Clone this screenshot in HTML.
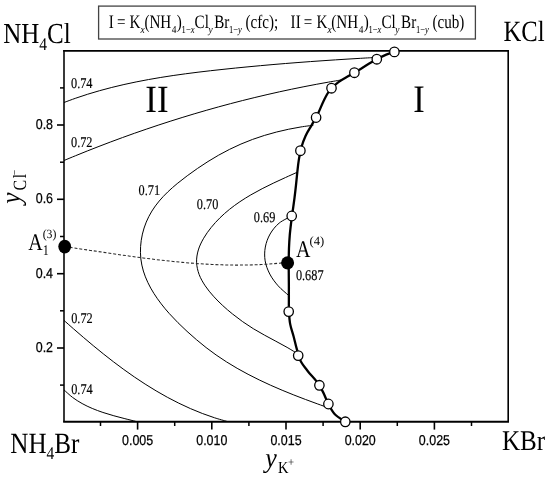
<!DOCTYPE html>
<html><head><meta charset="utf-8"><title>Phase diagram</title>
<style>html,body{margin:0;padding:0;background:#fff}svg{display:block}text{fill:#000;text-rendering:geometricPrecision}.s{font-family:"Liberation Serif",serif}.a{font-family:"Liberation Sans",sans-serif}.i{font-style:italic}</style></head><body>
<svg width="550" height="479" viewBox="0 0 550 479">
<rect width="550" height="479" fill="#fff"/>
<path d="M64.00 102.50 C65.96 101.77 71.84 99.54 75.79 98.16 C79.74 96.79 83.70 95.48 87.68 94.23 C91.66 92.98 95.66 91.80 99.67 90.67 C103.68 89.54 107.71 88.47 111.75 87.45 C115.79 86.43 119.84 85.46 123.91 84.54 C127.97 83.62 132.05 82.76 136.14 81.93 C140.22 81.10 144.32 80.32 148.43 79.57 C152.53 78.83 156.65 78.12 160.77 77.45 C164.89 76.78 169.02 76.14 173.16 75.53 C177.30 74.92 181.44 74.35 185.58 73.79 C189.73 73.24 193.88 72.71 198.04 72.20 C202.19 71.69 206.35 71.21 210.51 70.73 C214.67 70.26 218.83 69.81 223.00 69.36 C227.16 68.91 231.32 68.48 235.48 68.06 C239.65 67.64 243.81 67.23 247.98 66.83 C252.14 66.43 256.31 66.04 260.47 65.66 C264.64 65.28 268.81 64.92 272.97 64.56 C277.14 64.20 281.31 63.85 285.47 63.51 C289.64 63.18 293.81 62.85 297.98 62.53 C302.14 62.21 306.31 61.89 310.48 61.59 C314.65 61.29 318.82 60.99 322.99 60.71 C327.15 60.42 331.32 60.14 335.49 59.87 C339.66 59.60 343.83 59.33 347.99 59.07 C352.16 58.81 356.33 58.56 360.50 58.32 C364.67 58.07 370.92 57.72 373.00 57.60" fill="none" stroke="#000" stroke-width="1"/>
<path d="M64.00 160.50 C65.93 159.70 71.73 157.27 75.61 155.69 C79.49 154.10 83.37 152.53 87.27 150.98 C91.16 149.44 95.06 147.91 98.97 146.40 C102.88 144.88 106.80 143.39 110.72 141.92 C114.64 140.45 118.58 138.99 122.51 137.56 C126.45 136.12 130.40 134.71 134.35 133.31 C138.31 131.92 142.27 130.54 146.23 129.19 C150.20 127.83 154.17 126.49 158.15 125.18 C162.13 123.86 166.12 122.57 170.12 121.29 C174.11 120.01 178.11 118.76 182.11 117.52 C186.12 116.28 190.13 115.07 194.15 113.87 C198.17 112.68 202.19 111.50 206.22 110.35 C210.25 109.19 214.29 108.06 218.33 106.95 C222.37 105.83 226.42 104.74 230.47 103.67 C234.52 102.60 238.58 101.55 242.64 100.52 C246.70 99.49 250.77 98.49 254.84 97.50 C258.91 96.51 262.99 95.55 267.07 94.61 C271.15 93.66 275.24 92.74 279.33 91.84 C283.42 90.94 287.52 90.06 291.62 89.21 C295.71 88.35 299.82 87.52 303.93 86.71 C308.03 85.89 312.15 85.10 316.26 84.34 C320.38 83.57 324.50 82.82 328.62 82.10 C332.74 81.38 338.94 80.35 341.00 80.00" fill="none" stroke="#000" stroke-width="1"/>
<path d="M313.40 125.20 C311.33 125.49 305.12 126.28 300.99 126.95 C296.87 127.62 292.75 128.37 288.65 129.22 C284.56 130.07 280.47 131.01 276.42 132.05 C272.37 133.08 268.35 134.21 264.36 135.44 C260.38 136.67 256.42 138.00 252.52 139.43 C248.61 140.87 244.75 142.40 240.94 144.05 C237.13 145.69 233.37 147.45 229.66 149.30 C225.95 151.15 222.30 153.10 218.68 155.14 C215.07 157.18 211.50 159.32 207.97 161.54 C204.43 163.75 200.95 166.06 197.49 168.44 C194.04 170.81 190.61 173.26 187.23 175.79 C183.85 178.31 180.47 180.89 177.23 183.58 C173.98 186.27 170.77 189.03 167.77 191.94 C164.76 194.85 161.85 197.86 159.21 201.04 C156.57 204.23 154.08 207.54 151.92 211.05 C149.76 214.57 147.82 218.28 146.24 222.12 C144.66 225.96 143.36 230.02 142.41 234.08 C141.47 238.15 140.83 242.37 140.58 246.51 C140.32 250.66 140.40 254.88 140.87 258.97 C141.33 263.06 142.21 267.11 143.37 271.04 C144.54 274.97 146.10 278.82 147.86 282.56 C149.63 286.31 151.72 289.96 153.94 293.51 C156.17 297.05 158.65 300.50 161.21 303.84 C163.76 307.18 166.49 310.41 169.28 313.54 C172.07 316.68 174.98 319.71 177.94 322.68 C180.90 325.64 183.95 328.52 187.03 331.35 C190.11 334.17 193.24 336.95 196.41 339.65 C199.59 342.36 202.80 345.01 206.08 347.56 C209.36 350.12 212.70 352.58 216.10 354.96 C219.50 357.35 222.96 359.64 226.47 361.86 C229.98 364.08 233.54 366.22 237.15 368.30 C240.75 370.37 244.41 372.37 248.09 374.31 C251.78 376.25 255.51 378.12 259.27 379.94 C263.02 381.77 266.82 383.52 270.63 385.24 C274.45 386.95 278.29 388.61 282.15 390.23 C286.01 391.85 289.90 393.42 293.79 394.96 C297.68 396.50 301.59 398.00 305.50 399.47 C309.41 400.95 313.33 402.38 317.25 403.81 C321.17 405.23 327.04 407.30 329.00 408.00" fill="none" stroke="#000" stroke-width="1"/>
<path d="M297.10 172.30 C295.16 173.17 289.35 175.76 285.47 177.54 C281.58 179.31 277.66 181.09 273.78 182.95 C269.89 184.80 266.00 186.69 262.18 188.68 C258.36 190.66 254.55 192.71 250.84 194.88 C247.13 197.05 243.47 199.30 239.92 201.71 C236.37 204.11 232.90 206.62 229.57 209.31 C226.24 212.00 223.00 214.82 219.94 217.84 C216.88 220.87 213.92 224.06 211.20 227.46 C208.49 230.85 205.79 234.49 203.65 238.24 C201.50 241.98 199.51 245.95 198.33 249.94 C197.15 253.93 196.45 258.10 196.58 262.17 C196.71 266.25 197.66 270.45 199.10 274.40 C200.54 278.34 202.81 282.20 205.21 285.84 C207.60 289.47 210.55 292.94 213.47 296.22 C216.38 299.51 219.52 302.57 222.69 305.53 C225.86 308.48 229.16 311.26 232.49 313.95 C235.82 316.64 239.20 319.21 242.67 321.66 C246.14 324.12 249.68 326.45 253.31 328.69 C256.94 330.93 260.70 333.01 264.45 335.10 C268.21 337.19 272.05 339.17 275.83 341.22 C279.61 343.26 283.43 345.26 287.12 347.39 C290.82 349.52 296.19 352.90 298.00 354.00" fill="none" stroke="#000" stroke-width="1"/>
<path d="M291.80 216.00 C289.69 217.19 282.74 220.14 279.13 223.13 C275.52 226.13 272.44 229.98 270.14 233.97 C267.84 237.95 266.16 242.56 265.33 247.04 C264.49 251.52 264.40 256.35 265.15 260.86 C265.90 265.37 267.64 269.91 269.80 274.07 C271.97 278.23 275.00 282.27 278.14 285.82 C281.27 289.37 286.86 293.80 288.60 295.40" fill="none" stroke="#000" stroke-width="1"/>
<path d="M64.00 320.40 C65.60 321.82 70.39 326.08 73.62 328.91 C76.85 331.73 80.09 334.55 83.36 337.34 C86.63 340.13 89.92 342.91 93.24 345.65 C96.56 348.40 99.89 351.13 103.26 353.81 C106.63 356.50 110.03 359.16 113.45 361.78 C116.88 364.39 120.33 366.97 123.82 369.50 C127.30 372.03 130.82 374.52 134.37 376.96 C137.92 379.39 141.51 381.77 145.13 384.09 C148.75 386.41 152.41 388.67 156.11 390.87 C159.80 393.06 163.54 395.19 167.31 397.24 C171.08 399.29 174.89 401.27 178.75 403.17 C182.60 405.06 186.49 406.88 190.42 408.59 C194.35 410.31 198.32 411.95 202.33 413.48 C206.35 415.00 210.40 416.44 214.49 417.76 C218.59 419.08 224.83 420.79 226.90 421.40" fill="none" stroke="#000" stroke-width="1"/>
<path d="M64.00 389.90 C65.44 391.16 69.61 395.17 72.62 397.44 C75.64 399.71 78.83 401.70 82.11 403.54 C85.38 405.37 88.80 406.97 92.26 408.45 C95.73 409.94 99.31 411.22 102.90 412.44 C106.50 413.66 110.17 414.72 113.83 415.75 C117.49 416.79 121.20 417.71 124.86 418.66 C128.52 419.60 133.98 420.94 135.80 421.40" fill="none" stroke="#000" stroke-width="1"/>
<path d="M64.70 246.60 C66.87 246.92 73.37 247.86 77.71 248.50 C82.06 249.14 86.40 249.79 90.74 250.44 C95.09 251.08 99.44 251.74 103.79 252.38 C108.14 253.02 112.49 253.67 116.85 254.30 C121.20 254.93 125.56 255.55 129.92 256.15 C134.27 256.76 138.64 257.35 143.00 257.92 C147.36 258.49 151.73 259.05 156.10 259.57 C160.46 260.09 164.83 260.59 169.20 261.06 C173.57 261.53 177.95 261.97 182.32 262.37 C186.70 262.77 191.07 263.13 195.45 263.46 C199.83 263.78 204.21 264.06 208.59 264.29 C212.97 264.53 217.35 264.72 221.74 264.85 C226.12 264.99 230.51 265.07 234.89 265.10 C239.28 265.12 243.67 265.09 248.06 264.99 C252.45 264.90 256.84 264.74 261.23 264.52 C265.63 264.29 270.02 264.00 274.41 263.63 C278.81 263.26 285.40 262.52 287.60 262.30" fill="none" stroke="#2a2a2a" stroke-width="1.05" stroke-dasharray="3 1.9"/>
<path d="M63.2 50.9H508.2V421.8" fill="none" stroke="#000" stroke-width="1.6"/>
<path d="M64 50.1V421.8" fill="none" stroke="#000" stroke-width="1.55"/>
<path d="M63.15 421.8H509" fill="none" stroke="#000" stroke-width="1.9"/>
<path d="M57 348.0H64" stroke="#000" stroke-width="1.6"/>
<path d="M57 273.7H64" stroke="#000" stroke-width="1.6"/>
<path d="M57 199.3H64" stroke="#000" stroke-width="1.6"/>
<path d="M57 125.0H64" stroke="#000" stroke-width="1.6"/>
<path d="M60 385.1H64" stroke="#000" stroke-width="1.5"/>
<path d="M60 310.8H64" stroke="#000" stroke-width="1.5"/>
<path d="M60 236.5H64" stroke="#000" stroke-width="1.5"/>
<path d="M60 162.2H64" stroke="#000" stroke-width="1.5"/>
<path d="M60 87.9H64" stroke="#000" stroke-width="1.5"/>
<path d="M137.6 421.8V429.6" stroke="#000" stroke-width="1.6"/>
<path d="M211.8 421.8V429.6" stroke="#000" stroke-width="1.6"/>
<path d="M286.0 421.8V429.6" stroke="#000" stroke-width="1.6"/>
<path d="M360.2 421.8V429.6" stroke="#000" stroke-width="1.6"/>
<path d="M434.4 421.8V429.6" stroke="#000" stroke-width="1.6"/>
<path d="M100.5 421.8V426" stroke="#000" stroke-width="1.5"/>
<path d="M174.7 421.8V426" stroke="#000" stroke-width="1.5"/>
<path d="M248.9 421.8V426" stroke="#000" stroke-width="1.5"/>
<path d="M323.1 421.8V426" stroke="#000" stroke-width="1.5"/>
<path d="M397.3 421.8V426" stroke="#000" stroke-width="1.5"/>
<path d="M471.5 421.8V426" stroke="#000" stroke-width="1.5"/>
<path d="M394.40 51.90 C392.40 52.64 386.25 54.61 382.41 56.34 C378.58 58.07 375.02 60.21 371.39 62.31 C367.76 64.41 364.28 66.76 360.63 68.96 C356.97 71.16 353.16 73.28 349.46 75.48 C345.77 77.69 341.77 79.65 338.44 82.17 C335.11 84.69 332.02 87.40 329.51 90.61 C327.00 93.81 325.27 97.64 323.38 101.41 C321.50 105.19 320.09 109.37 318.19 113.24 C316.28 117.11 314.07 120.87 311.98 124.62 C309.89 128.37 307.42 131.91 305.65 135.72 C303.88 139.54 302.49 143.49 301.35 147.52 C300.21 151.55 299.50 155.73 298.82 159.90 C298.14 164.07 297.74 168.32 297.27 172.52 C296.80 176.73 296.45 180.92 295.99 185.12 C295.54 189.31 295.07 193.50 294.54 197.69 C294.01 201.88 293.39 206.08 292.81 210.28 C292.24 214.48 291.61 218.69 291.10 222.89 C290.59 227.10 290.09 231.31 289.73 235.53 C289.38 239.74 289.15 243.96 288.98 248.18 C288.81 252.40 288.77 256.62 288.73 260.84 C288.70 265.07 288.75 269.30 288.77 273.53 C288.79 277.75 288.85 281.99 288.87 286.22 C288.88 290.45 288.85 294.68 288.87 298.91 C288.89 303.13 288.75 307.37 288.97 311.57 C289.19 315.77 289.41 319.96 290.19 324.11 C290.96 328.25 292.52 332.31 293.62 336.44 C294.71 340.57 295.61 344.82 296.76 348.87 C297.91 352.93 298.67 357.02 300.51 360.74 C302.36 364.47 305.23 367.84 307.84 371.20 C310.45 374.57 313.68 377.53 316.18 380.94 C318.68 384.35 320.85 387.94 322.83 391.66 C324.81 395.38 326.09 399.55 328.05 403.26 C330.01 406.97 331.72 410.84 334.59 413.93 C337.47 417.02 343.52 420.49 345.30 421.80" fill="none" stroke="#000" stroke-width="2.3"/>
<ellipse cx="394.4" cy="51.9" rx="4.7" ry="4.8" fill="#fff" stroke="#000" stroke-width="1.3"/>
<ellipse cx="376.8" cy="59.2" rx="4.7" ry="4.8" fill="#fff" stroke="#000" stroke-width="1.3"/>
<ellipse cx="354.4" cy="72.7" rx="4.7" ry="4.8" fill="#fff" stroke="#000" stroke-width="1.3"/>
<ellipse cx="331.5" cy="88.2" rx="4.7" ry="4.8" fill="#fff" stroke="#000" stroke-width="1.3"/>
<ellipse cx="316.1" cy="117.5" rx="4.7" ry="4.8" fill="#fff" stroke="#000" stroke-width="1.3"/>
<ellipse cx="300.4" cy="150.7" rx="4.7" ry="4.8" fill="#fff" stroke="#000" stroke-width="1.3"/>
<ellipse cx="291.7" cy="216.0" rx="4.7" ry="4.8" fill="#fff" stroke="#000" stroke-width="1.3"/>
<ellipse cx="288.7" cy="311.6" rx="4.7" ry="4.8" fill="#fff" stroke="#000" stroke-width="1.3"/>
<ellipse cx="298.2" cy="355.6" rx="4.7" ry="4.8" fill="#fff" stroke="#000" stroke-width="1.3"/>
<ellipse cx="319.4" cy="385.3" rx="4.7" ry="4.8" fill="#fff" stroke="#000" stroke-width="1.3"/>
<ellipse cx="328.4" cy="404.0" rx="4.7" ry="4.8" fill="#fff" stroke="#000" stroke-width="1.3"/>
<ellipse cx="345.3" cy="421.8" rx="4.7" ry="4.8" fill="#fff" stroke="#000" stroke-width="1.3"/>
<ellipse cx="64.7" cy="246.6" rx="6.4" ry="6.8" fill="#000"/>
<ellipse cx="287.6" cy="262.8" rx="6.5" ry="6.6" fill="#000"/>
<text class="a" transform="translate(53.0 351.9) scale(0.87 1)" font-size="14.3" text-anchor="end" stroke="#000" stroke-width="0.25">0.2</text>
<text class="a" transform="translate(53.0 277.6) scale(0.87 1)" font-size="14.3" text-anchor="end" stroke="#000" stroke-width="0.25">0.4</text>
<text class="a" transform="translate(53.0 203.2) scale(0.87 1)" font-size="14.3" text-anchor="end" stroke="#000" stroke-width="0.25">0.6</text>
<text class="a" transform="translate(53.0 128.9) scale(0.87 1)" font-size="14.3" text-anchor="end" stroke="#000" stroke-width="0.25">0.8</text>
<text class="a" transform="translate(137.6 445.4) scale(0.87 1)" font-size="14.3" text-anchor="middle" stroke="#000" stroke-width="0.25">0.005</text>
<text class="a" transform="translate(211.8 445.4) scale(0.87 1)" font-size="14.3" text-anchor="middle" stroke="#000" stroke-width="0.25">0.010</text>
<text class="a" transform="translate(286.0 445.4) scale(0.87 1)" font-size="14.3" text-anchor="middle" stroke="#000" stroke-width="0.25">0.015</text>
<text class="a" transform="translate(360.2 445.4) scale(0.87 1)" font-size="14.3" text-anchor="middle" stroke="#000" stroke-width="0.25">0.020</text>
<text class="a" transform="translate(434.4 445.4) scale(0.87 1)" font-size="14.3" text-anchor="middle" stroke="#000" stroke-width="0.25">0.025</text>
<text class="s" transform="translate(71.0 88.4) scale(0.830 1)" font-size="14.8" stroke="#000" stroke-width="0.18">0.74</text>
<text class="s" transform="translate(71.0 147.0) scale(0.830 1)" font-size="14.8" stroke="#000" stroke-width="0.18">0.72</text>
<text class="s" transform="translate(138.6 194.5) scale(0.830 1)" font-size="14.8" stroke="#000" stroke-width="0.18">0.71</text>
<text class="s" transform="translate(196.8 209.4) scale(0.830 1)" font-size="14.8" stroke="#000" stroke-width="0.18">0.70</text>
<text class="s" transform="translate(253.8 222.4) scale(0.830 1)" font-size="14.8" stroke="#000" stroke-width="0.18">0.69</text>
<text class="s" transform="translate(295.9 279.7) scale(0.830 1)" font-size="14.8" stroke="#000" stroke-width="0.18">0.687</text>
<text class="s" transform="translate(71.2 323.0) scale(0.830 1)" font-size="14.8" stroke="#000" stroke-width="0.18">0.72</text>
<text class="s" transform="translate(71.2 393.5) scale(0.830 1)" font-size="14.8" stroke="#000" stroke-width="0.18">0.74</text>
<text class="s" transform="translate(3.2 43.0) scale(0.863 1)" font-size="29">NH<tspan font-size="18" dy="6.6">4</tspan><tspan dy="-6.6">Cl</tspan></text>
<text class="s" transform="translate(503.5 41.3) scale(0.841 1)" font-size="29.3">KCl</text>
<text class="s" transform="translate(10.3 453.3) scale(0.857 1)" font-size="29.3">NH<tspan font-size="18" dy="6">4</tspan><tspan dy="-6">Br</tspan></text>
<text class="s" transform="translate(502.0 450.0) scale(0.880 1)" font-size="28.5">KBr</text>
<text class="s" transform="translate(145.3 111.5) scale(0.905 1)" font-size="38.6">II</text>
<text class="s" transform="translate(413.2 112.1) scale(0.880 1)" font-size="39.1">I</text>
<text class="s" transform="translate(28.2 249.7) scale(0.834 1)" font-size="24">A<tspan font-size="14.6" dy="5.2">1</tspan></text>
<text class="s" transform="translate(42.7 237.6) scale(0.940 1)" font-size="12.5">(3)</text>
<text class="s" transform="translate(296.0 257.4) scale(0.834 1)" font-size="24">A</text>
<text class="s" transform="translate(309.5 245.0) scale(1.000 1)" font-size="12.6">(4)</text>
<text class="s i" transform="translate(265.2 466.8) scale(0.930 1)" font-size="28">y</text>
<text class="s" transform="translate(278.0 473.2) scale(0.850 1)" font-size="17">K</text>
<text class="s" transform="translate(288.0 465.6) scale(0.900 1)" font-size="12">+</text>
<text class="s i" transform="translate(19.6 203.8) rotate(-90) scale(0.900 1)" font-size="28">y</text>
<text class="s" transform="translate(25.6 190.4) rotate(-90) scale(0.850 1)" font-size="18.7">C</text>
<text class="s" transform="translate(25.6 178.3) rotate(-90) scale(0.850 1)" font-size="18.7">l</text>
<text class="s" transform="translate(18.0 175.3) rotate(-90) scale(0.900 1)" font-size="11">−</text>
<rect x="98.6" y="6.1" width="376.8" height="32.9" fill="#fff" stroke="#444" stroke-width="1.3"/>
<text class="s" transform="translate(108.8 28.4) scale(0.795 1)" font-size="19">I</text>
<text class="s" transform="translate(116.9 28.4) scale(0.795 1)" font-size="19">=</text>
<text class="s" transform="translate(129.6 28.4) scale(0.795 1)" font-size="19">K</text>
<text class="s i" transform="translate(140.5 32.6) scale(0.880 1)" font-size="10.7">x</text>
<text class="s" transform="translate(144.4 28.4) scale(0.795 1)" font-size="19">(NH</text>
<text class="s" transform="translate(171.8 32.6) scale(0.880 1)" font-size="10.7">4</text>
<text class="s" transform="translate(176.8 28.4) scale(0.795 1)" font-size="19">)</text>
<text class="s" transform="translate(181.6 32.6) scale(0.800 1)" font-size="10.7">1−<tspan class="i">x</tspan></text>
<text class="s" transform="translate(194.6 28.4) scale(0.795 1)" font-size="19">Cl</text>
<text class="s i" transform="translate(208.4 32.6) scale(0.880 1)" font-size="10.7">y</text>
<text class="s" transform="translate(214.2 28.4) scale(0.795 1)" font-size="19">Br</text>
<text class="s" transform="translate(229.0 32.6) scale(0.800 1)" font-size="10.7">1−<tspan class="i">y</tspan></text>
<text class="s" transform="translate(245.5 28.4) scale(0.795 1)" font-size="19">(cfc);</text>
<text class="s" transform="translate(290.6 28.4) scale(0.795 1)" font-size="19">II</text>
<text class="s" transform="translate(303.7 28.4) scale(0.795 1)" font-size="19">=</text>
<text class="s" transform="translate(316.5 28.4) scale(0.795 1)" font-size="19">K</text>
<text class="s i" transform="translate(327.4 32.6) scale(0.880 1)" font-size="10.7">x</text>
<text class="s" transform="translate(331.3 28.4) scale(0.795 1)" font-size="19">(NH</text>
<text class="s" transform="translate(358.7 32.6) scale(0.880 1)" font-size="10.7">4</text>
<text class="s" transform="translate(363.7 28.4) scale(0.795 1)" font-size="19">)</text>
<text class="s" transform="translate(368.5 32.6) scale(0.800 1)" font-size="10.7">1−<tspan class="i">x</tspan></text>
<text class="s" transform="translate(381.5 28.4) scale(0.795 1)" font-size="19">Cl</text>
<text class="s i" transform="translate(395.3 32.6) scale(0.880 1)" font-size="10.7">y</text>
<text class="s" transform="translate(401.1 28.4) scale(0.795 1)" font-size="19">Br</text>
<text class="s" transform="translate(415.9 32.6) scale(0.800 1)" font-size="10.7">1−<tspan class="i">y</tspan></text>
<text class="s" transform="translate(432.4 28.4) scale(0.795 1)" font-size="19">(cub)</text>
</svg></body></html>
